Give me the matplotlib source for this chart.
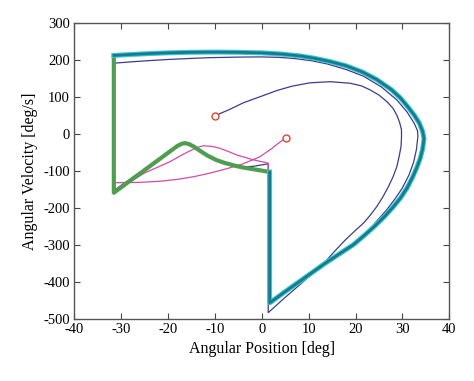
import numpy as np
import matplotlib.pyplot as plt

plt.rcParams['font.family'] = ['Liberation Serif', 'DejaVu Serif']
plt.rcParams['axes.unicode_minus'] = False

# Limit cycle (teal part): top arc, right side, bottom, then the jump at the right wall
cycle_x = [-31.5, -28.0, -24.0, -20.0, -15.0, -10.0, -5.0, 0.0, 4.0, 8.0, 11.0, 14.4,
           18.0, 21.5, 24.5, 27.6, 29.5, 31.1, 32.5, 33.6, 34.3, 34.6, 34.3, 33.8,
           33.0, 32.2, 31.0, 29.6, 28.0, 26.2, 24.2, 22.0, 19.6, 16.6, 13.5, 10.5,
           7.5, 4.6, 1.8, 1.7, 1.7]
cycle_y = [213, 215.5, 218, 220, 221.5, 222, 221.5, 220, 217, 212, 206, 197,
           185, 168, 148, 121, 99, 75, 52, 30, 8, -12, -40, -65,
           -92, -115, -145, -172, -197, -222, -247, -272, -298, -323, -349, -376,
           -403, -429, -455, -455, -102]

# Limit cycle (green part): after the right wall back to the left wall
green_x = [1.7, -1.0, -2.5, -4.5, -6.0, -8.0, -9.6, -11.5, -13.1, -14.5, -15.5, -16.3,
           -17.0, -18.0, -24.0, -31.5, -31.5]
green_y = [-102, -96, -93, -88.5, -84, -77, -70, -58, -45, -33, -26.5, -24,
           -25.5, -32, -88, -158, 213]

# Trajectory 1 (navy), starting at (-10, 50)
navy_x = [-10.0, -7.0, -3.9, 0.0, 3.2, 6.5, 10.3, 14.6, 18.8, 21.2, 23.1, 25.0, 26.7,
          28.0, 28.8, 29.4, 29.8, 29.8, 29.7, 29.3, 28.8, 28.0, 27.0, 25.8, 24.5,
          23.2, 21.7, 19.8, 17.8, 15.5, 13.0, 9.0, 5.0, 1.4,
          1.4, -2.0, -4.5, -6.0, -8.0, -9.6, -11.5, -13.1, -14.5, -15.5, -16.3,
          -17.0, -18.0, -24.0, -31.5,
          -31.5, -28.0, -24.0, -20.0, -15.0, -11.0, -5.0, -0.3, 3.5, 6.7, 10.5,
          14.0, 18.0, 21.7, 25.5, 28.8, 31.0, 32.5, 33.2, 33.3, 33.0, 32.4, 31.4,
          30.0, 28.4, 26.6, 24.5, 22.1, 19.6, 16.6, 13.5, 10.5, 7.5, 4.6, 1.8]
navy_y = [50, 66, 85, 103, 118, 130, 139, 142, 138, 131, 120, 106, 88,
          70, 52, 32, 12, -10, -33, -60, -88, -115, -142, -170, -196,
          -218, -240, -262, -286, -317, -352, -397, -441, -482,
          -80, -87, -88, -84, -77, -70, -58, -45, -33, -26.5, -24,
          -25.5, -32, -86, -152,
          192, 195.5, 199, 202, 205, 207, 208.5, 209, 208, 205, 199,
          190, 175, 157, 128, 93, 60, 30, 10, -5, -40, -75, -110,
          -145, -175, -205, -235, -270, -298, -323, -349, -376, -403, -429, -455]

# Trajectory 2 (magenta), starting at (5, -10)
mag_x = [5.1, 3.5, 2.0, -0.4, -4.0, -7.4, -11.0, -14.6, -18.0, -21.7, -26.0, -31.5,
         -31.5, -25.0, -22.0, -19.5, -17.0, -15.3, -13.8, -12.4, -10.5, -8.9, -7.0,
         -5.3, -1.8, 1.4, 1.7]
mag_y = [-10, -25, -40, -61, -80, -93, -105, -115, -122, -127, -130, -131,
         -155, -105, -88, -74, -56, -45, -36, -31, -33, -38, -47,
         -56, -69, -78, -455]

starts_x = [-10.0, 5.1]
starts_y = [50, -10]

fig = plt.figure(figsize=(4.74, 3.81), dpi=100)
ax = fig.add_axes([0.156, 0.162, 0.792, 0.777])

ax.plot(navy_x, navy_y, color='#3b3d8c', lw=0.9, zorder=2)
ax.plot(mag_x, mag_y, color='#d44aa6', lw=0.9, zorder=3)
ax.plot(green_x, green_y, color='#4f9d4f', lw=3.0, solid_capstyle='round', zorder=4)
ax.plot(cycle_x, cycle_y, color='#3cc6d6', lw=3.6, zorder=5)
ax.plot(cycle_x, cycle_y, color='#167c8c', lw=2.0, zorder=6)
ax.plot(starts_x, starts_y, 'o', ms=5, mfc='white', mec='#e2452f', mew=1.0, zorder=7)

ax.set_xlim(-40, 40)
ax.set_ylim(-500, 300)
ax.set_xticks(np.arange(-40, 41, 10))
ax.set_yticks(np.arange(-500, 301, 100))
ax.tick_params(direction='in', top=True, right=True, length=4, width=0.8,
               color='#444444', labelsize=10.5, pad=3)
for s in ax.spines.values():
    s.set_color('#555555')
    s.set_linewidth(1.0)

ax.set_xlabel('Angular Position [deg]', fontsize=11.5, labelpad=3)
ax.set_ylabel('Angular Velocity [deg/s]', fontsize=11.5, labelpad=4)

fig.savefig('out.png', dpi=100)
